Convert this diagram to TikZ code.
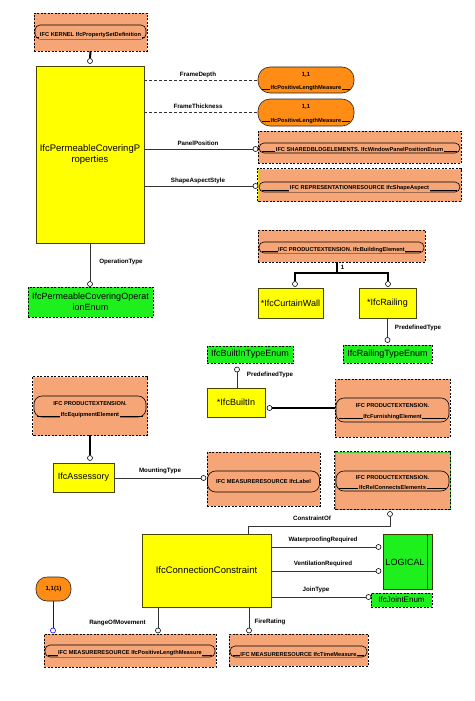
\documentclass[tikz,border=0pt]{standalone}
\usepackage{fontspec}
\setmainfont{Liberation Sans}
\definecolor{orbg}{RGB}{245,165,118}
\definecolor{pillc}{RGB}{255,140,20}
\definecolor{yel}{RGB}{255,255,0}
\definecolor{ybord}{RGB}{70,70,0}
\definecolor{grn}{RGB}{30,240,30}
\definecolor{gapy}{RGB}{240,220,0}
\definecolor{gapg}{RGB}{60,200,60}
\definecolor{ln}{RGB}{50,50,50}
\tikzset{
  lbl/.style={font=\fontsize{6.2}{7}\selectfont\bfseries, inner sep=0pt, text=black},
  reftxt/.style={font=\fontsize{5.7}{6.5}\selectfont\bfseries, inner sep=0.6pt, text=black},
  outerbox/.style={draw=black, dash pattern=on 2pt off 1.5pt, line width=0.7pt, fill=orbg, inner sep=0pt},
  gapbox/.style={draw=#1, line width=0.7pt, fill=orbg, inner sep=0pt},
  dashover/.style={draw=black, dash pattern=on 2pt off 1.5pt, line width=0.7pt},
  innerbox/.style={draw=black, rounded corners=5pt, line width=0.6pt, inner sep=0pt},
  ybox/.style={draw=ybord, fill=yel, line width=0.8pt, inner sep=0pt, font=\fontsize{9}{11}\selectfont, align=center},
  gbox/.style={draw=black, dash pattern=on 2pt off 1.5pt, line width=0.7pt, fill=grn, inner sep=0pt, font=\fontsize{9}{11}\selectfont, align=center},
  pill/.style={draw=black!85, fill=pillc, rounded corners=12pt, line width=0.6pt, inner sep=0pt},
  pilltxt/.style={font=\fontsize{6}{7}\selectfont\bfseries, inner sep=0pt},
  circ/.style={circle, draw=black, fill=white, minimum size=5pt, inner sep=0pt, line width=0.6pt},
  thinl/.style={draw=ln, line width=0.6pt},
  dashl/.style={draw=ln, line width=0.6pt, dash pattern=on 3pt off 2pt},
  heavy/.style={draw=black, line width=2pt},
}
\begin{document}
\begin{tikzpicture}[x=1pt,y=-1pt]
\path[fill=white] (0,0) rectangle (474,701);
\useasboundingbox (0,0) rectangle (474,701);

% ---- IfcPropertySetDefinition
\node[outerbox, minimum width=113pt, minimum height=38pt] (psd) at (90.5,32) {};
\node[innerbox, minimum width=111pt, minimum height=14pt] (psdin) at (90.5,32) {};
\draw[draw=black, line width=0.6pt] (37,37) -- (144,37);
\node[reftxt, fill=orbg] (psdt) at (90.5,35.5) {IFC KERNEL IfcPropertySetDefinition};

% ---- main yellow box
\node[ybox, font=\fontsize{9.5}{11.5}\selectfont, minimum width=108pt, minimum height=177pt] (props) at (90,154.5) {IfcPermeableCoveringP\\roperties};
\node[circ] (cpsd) at (90,61) {};
\draw[heavy] (psd.south) -- (cpsd.north);

% ---- pills
\node[pill, minimum width=96pt, minimum height=26pt] (pd) at (306,80) {};
\draw[draw=black, line width=0.6pt] (261.8,89) -- (350.2,89);
\node[pilltxt] (pd1) at (306,75) {1,1};
\node[reftxt, fill=pillc] (pd2) at (306,88.5) {IfcPositiveLengthMeasure};

\node[pill, minimum width=96pt, minimum height=27pt] (pt) at (306,112.5) {};
\draw[draw=black, line width=0.6pt] (261.8,121.5) -- (350.2,121.5);
\node[pilltxt] (pt1) at (306,107) {1,1};
\node[reftxt, fill=pillc] (pt2) at (306,121) {IfcPositiveLengthMeasure};

\draw[dashl] (props.east |- pd) -- (pd.west);
\node[lbl] (lfd) at (198,75) {FrameDepth};
\draw[dashl] (props.east |- pt) -- (pt.west);
\node[lbl] (lft) at (198,106) {FrameThickness};

% ---- PanelPosition
\node[outerbox, minimum width=203pt, minimum height=32pt] (pp) at (359.5,147) {};
\node[innerbox, minimum width=201pt, minimum height=10pt] (ppin) at (359.5,148) {};
\draw[draw=black, line width=0.6pt] (262,151) -- (457,151);
\node[reftxt, fill=orbg] (ppt) at (359.5,149.5) {IFC SHAREDBLDGELEMENTS. IfcWindowPanelPositionEnum};
\node[circ] (cpp) at (255.5,149) {};
\draw[thinl] (props.east |- cpp) -- (cpp.west);
\node[lbl] (lpp) at (198,143) {PanelPosition};

% ---- ShapeAspect
\node[gapbox=gapy, minimum width=203pt, minimum height=32pt] (sa) at (359.5,185) {};
\draw[dashover] (sa.south west) rectangle (sa.north east);
\node[innerbox, minimum width=201pt, minimum height=10pt] (sain) at (359.5,187) {};
\draw[draw=black, line width=0.6pt] (262,190) -- (457,190);
\node[reftxt, fill=orbg] (sat) at (359.5,188.5) {IFC REPRESENTATIONRESOURCE IfcShapeAspect};
\node[circ] (csa) at (255.5,186) {};
\draw[thinl] (props.east |- csa) -- (csa.west);
\node[lbl] (lsa) at (198,181) {ShapeAspectStyle};

% ---- OperationType
\node[circ] (copt) at (90,284) {};
\draw[thinl] (props.south) -- (copt.north);
\node[lbl] (lopt) at (121,262) {OperationType};
\node[gbox, minimum width=125pt, minimum height=30pt] (opt) at (90.5,302) {IfcPermeableCoveringOperat\\ionEnum};

% ---- IfcBuildingElement
\node[outerbox, minimum width=167pt, minimum height=32pt] (be) at (341.5,246) {};
\node[innerbox, minimum width=165pt, minimum height=11pt] (bein) at (341.5,247.5) {};
\draw[draw=black, line width=0.6pt] (262,251.5) -- (421,251.5);
\node[reftxt, fill=orbg] (bet) at (341.5,250) {IFC PRODUCTEXTENSION. IfcBuildingElement};
\coordinate (bej) at (337,273);
\node[circ] (ccw) at (295,284) {};
\node[circ] (crail) at (388,284) {};
\draw[heavy] (be.south -| bej) -- (bej);
\draw[heavy] (ccw.north) -- (ccw.north |- bej) -- (crail.north |- bej) -- (crail.north);
\node[lbl] (lone) at (342.5,267) {1};
\node[ybox, minimum width=65pt, minimum height=30pt] (cw) at (290.5,303) {*IfcCurtainWall};
\node[ybox, minimum width=57pt, minimum height=30pt] (rail) at (387.5,303) {*IfcRailing};
\node[circ] (crailp) at (387.5,340) {};
\draw[thinl] (rail.south) -- (crailp.north);
\node[lbl] (lrp) at (418,328) {PredefinedType};
\node[gbox, minimum width=89pt, minimum height=18pt] (railenum) at (387.5,354) {IfcRailingTypeEnum};

% ---- BuiltIn
\node[gbox, minimum width=86pt, minimum height=17pt] (bienum) at (250,354.5) {IfcBuiltInTypeEnum};
\node[ybox, minimum width=58pt, minimum height=29pt] (builtin) at (236,402.5) {*IfcBuiltIn};
\node[circ] (cbi) at (237,369.5) {};
\draw[thinl] (cbi.south) -- (cbi.south |- builtin.north);
\node[lbl] (lbp) at (270,375) {PredefinedType};
\node[outerbox, minimum width=115pt, minimum height=58pt] (furn) at (392.5,408) {};
\node[innerbox, rounded corners=8pt, minimum width=113pt, minimum height=24pt] (furnin) at (392.5,410) {};
\draw[draw=black, line width=0.6pt] (339,418) -- (446,418);
\node[reftxt] (furnt1) at (392.5,405.5) {IFC PRODUCTEXTENSION.};
\node[reftxt, fill=orbg] (furnt2) at (392.5,417.5) {IfcFurnishingElement};
\node[circ] (cbif) at (269.5,408) {};
\draw[heavy] (cbif.east) -- (furn.west |- cbif);

% ---- Equipment
\node[gapbox=gapy, minimum width=114pt, minimum height=58pt] (equip) at (90,406) {};
\draw[dashover] (equip.south west) rectangle (equip.north east);
\node[innerbox, rounded corners=8pt, minimum width=112pt, minimum height=21pt] (equipin) at (90,406.5) {};
\draw[draw=black, line width=0.6pt] (37,416) -- (143,416);
\node[reftxt] (equipt1) at (90,403.5) {IFC PRODUCTEXTENSION.};
\node[reftxt, fill=orbg] (equipt2) at (90,415.5) {IfcEquipmentElement};
\node[circ] (ceq) at (90,458) {};
\draw[heavy] (equip.south) -- (ceq.north);
\node[ybox, minimum width=61pt, minimum height=29pt] (assess) at (83.5,477.5) {IfcAssessory};
\node[circ] (clbl) at (203.5,478) {};
\draw[thinl] (assess.east |- clbl) -- (clbl.west);
\node[lbl] (lmt) at (160,471) {MountingType};

% ---- IfcLabel
\node[outerbox, minimum width=113pt, minimum height=54pt] (lblbox) at (263.5,479) {};
\node[innerbox, rounded corners=8pt, minimum width=112pt, minimum height=21pt] (lblin) at (263.5,481.5) {};
\node[reftxt] (lblt) at (263.5,481.5) {IFC MEASURERESOURCE IfcLabel};

% ---- RelConnectsElements
\node[gapbox=gapg, minimum width=115pt, minimum height=57pt] (rce) at (392.5,480.5) {};
\draw[dashover] (rce.south west) rectangle (rce.north east);
\node[innerbox, rounded corners=8pt, minimum width=113pt, minimum height=20pt] (rcein) at (392.5,481) {};
\draw[draw=black, line width=0.6pt] (339,488) -- (446,488);
\node[reftxt] (rcet1) at (392.5,477.5) {IFC PRODUCTEXTENSION.};
\node[reftxt, fill=orbg] (rcet2) at (392.5,487.5) {IfcRelConnectsElements};
\node[circ] (crce) at (390,514) {};

% ---- ConnectionConstraint
\node[ybox, font=\fontsize{9.5}{11.5}\selectfont, minimum width=129pt, minimum height=73pt] (cc) at (206.5,570.5) {IfcConnectionConstraint};
\coordinate (cj) at (248,526);
\draw[thinl] (crce.south) |- (cj) -- (cj |- cc.north);
\node[lbl] (lco) at (312,518) {ConstraintOf};

\node[draw=ybord!80!black, fill=grn, line width=0.8pt, minimum width=49pt, minimum height=55pt, inner sep=0pt] (logical) at (407.5,561.5) {};
\draw[draw=ybord!80!black, line width=0.8pt] (logical.north -| 427,0) -- (logical.south -| 427,0);
\node[font=\fontsize{9}{10}\selectfont, inner sep=0pt] (logt) at (405,562) {LOGICAL};
\node[gbox, font=\fontsize{8}{9}\selectfont, minimum width=61pt, minimum height=14pt] (jenum) at (401.5,600) {IfcJointEnum};

\node[circ] (cwat) at (378.5,547) {};
\node[circ] (cvent) at (378.5,571) {};
\node[circ] (cjoin) at (368.5,597) {};
\draw[thinl] (cc.east |- cwat) -- (cwat.west);
\draw[thinl] (cc.east |- cvent) -- (cvent.west);
\draw[thinl] (cc.east |- cjoin) -- (cjoin.west);
\node[lbl] (lwat) at (323,540) {WaterproofingRequired};
\node[lbl] (lvent) at (323,564) {VentilationRequired};
\node[lbl] (ljoin) at (316,590) {JoinType};

\node[circ] (crom) at (158,630.5) {};
\node[circ] (cfr) at (249,630.5) {};
\draw[thinl] (cc.south -| crom) -- (crom.north);
\draw[thinl] (cc.south -| cfr) -- (cfr.north);
\node[lbl] (lrom) at (117.5,623) {RangeOfMovement};
\node[lbl] (lfr) at (270,622) {FireRating};

% ---- cardinality pill
\node[pill, rounded corners=11pt, minimum width=35pt, minimum height=24pt] (card) at (53.5,589) {};
\node[pilltxt] (cardt) at (53.5,589) {1,1(1)};
\node[circ, draw=blue] (cblue) at (53,630.5) {};
\draw[draw=blue, line width=0.6pt] (card.south -| cblue) -- (cblue.north);

% ---- bottom reference boxes
\node[outerbox, minimum width=172pt, minimum height=33pt] (plm) at (130,650.5) {};
\node[innerbox, minimum width=170pt, minimum height=12pt] (plmin) at (130,651) {};
\draw[draw=black, line width=0.6pt] (48,655) -- (212,655);
\node[reftxt, fill=orbg] (plmt) at (130,653.5) {IFC MEASURERESOURCE IfcPositiveLengthMeasure};

\node[outerbox, minimum width=139pt, minimum height=32pt] (tm) at (298.5,650) {};
\node[innerbox, minimum width=137pt, minimum height=11pt] (tmin) at (298.5,651.5) {};
\draw[draw=black, line width=0.6pt] (233,655.5) -- (364,655.5);
\node[reftxt, fill=orbg] (tmt) at (298.5,654) {IFC MEASURERESOURCE IfcTimeMeasure};
\end{tikzpicture}
\end{document}
